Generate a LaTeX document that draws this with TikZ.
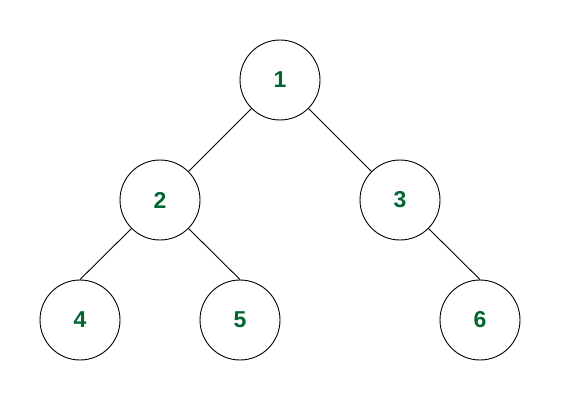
\documentclass[tikz,border=0pt]{standalone}
\usepackage{fontspec}
\setmainfont{Liberation Sans}
\definecolor{numgreen}{HTML}{006633}
\begin{document}
\begin{tikzpicture}[x=1pt,y=-1pt,
  treenode/.style={circle,draw=black,line width=0.9pt,minimum size=80pt,inner sep=0pt,
    font=\fontsize{23}{27}\selectfont\bfseries,text=numgreen},
  edge/.style={draw=black,line width=0.9pt}]
\useasboundingbox[fill=white] (0,0) rectangle (561,401);
\node[treenode] (n1) at (280,80) {1};
\node[treenode] (n2) at (160,200) {2};
\node[treenode] (n3) at (400,200) {3};
\node[treenode] (n4) at (80,320) {4};
\node[treenode] (n5) at (240,320) {5};
\node[treenode] (n6) at (480,320) {6};
\draw[edge] (n1.south west) -- (n2.north east);
\draw[edge] (n1.south east) -- (n3.north west);
\draw[edge] (n2.south west) -- (n4.north);
\draw[edge] (n2.south east) -- (n5.north);
\draw[edge] (n3.south east) -- (n6.north);
\end{tikzpicture}
\end{document}
